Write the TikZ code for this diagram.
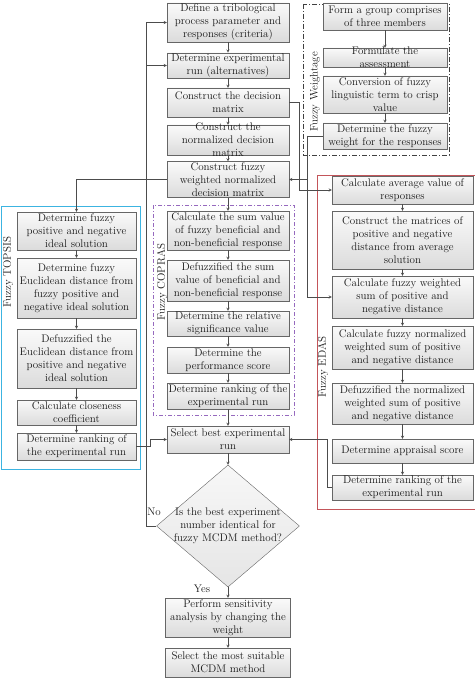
\documentclass[tikz,border=0pt]{standalone}
\usepackage{tikz}
\usetikzlibrary{shapes.geometric}
\definecolor{topsisblue}{RGB}{60,180,225}
\definecolor{coprasviolet}{RGB}{150,105,190}
\definecolor{edasred}{RGB}{195,85,90}
\tikzset{basic/.style={draw=black!60,top color=black!2,bottom color=black!14,
                       text=black!90,align=center,font=\fontsize{11}{13}\selectfont,
                       inner xsep=0.5pt,inner ysep=1pt}}
\tikzset{proc/.style={basic,rectangle}}
\tikzset{mainbox/.style={proc,minimum width=122pt}}
\tikzset{topsisbox/.style={proc,minimum width=119pt}}
\tikzset{edasbox/.style={proc,minimum width=141pt}}
\tikzset{weightbox/.style={proc,minimum width=124pt}}
\tikzset{tight/.style={inner ysep=-4pt}}
\tikzset{decision/.style={basic,diamond,inner sep=0pt,top color=black!3,bottom color=black!10}}
\tikzset{group/.style={line width=0.8pt}}
\tikzset{grouplabel/.style={rotate=90,text=black!90,font=\fontsize{11}{13}\selectfont}}
\tikzset{link/.style={draw=black!70,->}}

\begin{document}
\begin{tikzpicture}[x=1pt,y=-1pt,>=stealth]

    \useasboundingbox (0,0) rectangle (474,679);

    % method groups
    \draw[group,draw=black!75,dash pattern=on 5pt off 2pt on 1pt off 2pt] (303,4) rectangle (449,155);
    \node[grouplabel] (wlab) at (315,92) {Fuzzy Weightage};

    \draw[group,topsisblue] (1,206) rectangle (140,469);
    \node[grouplabel] (tlab) at (8,272) {Fuzzy TOPSIS};

    \draw[group,coprasviolet,dash pattern=on 4pt off 2pt on 1pt off 2pt] (153,205) rectangle (294,415);
    \node[grouplabel] (clab) at (162,282) {Fuzzy COPRAS};

    \draw[group,edasred] (317,175) rectangle (478,509);
    \node[grouplabel] (elab) at (323,367) {Fuzzy EDAS};

    % main column
    \node[mainbox,minimum height=39pt] (n1) at (228,22.5) {Define a tribological\\process parameter and\\responses (criteria)};
    \node[mainbox,minimum height=25pt] (n2) at (228,65.5) {Determine experimental\\run (alternatives)};
    \node[mainbox,minimum height=29pt] (n3) at (228,102.5) {Construct the decision\\matrix};
    \node[mainbox,tight,minimum height=30pt] (n4) at (228,140) {Construct the\\normalized decision\\matrix};
    \node[mainbox,minimum height=35pt] (n5) at (228,179.5) {Construct fuzzy\\weighted normalized\\decision matrix};

    % fuzzy weightage
    \node[weightbox,minimum height=27pt] (w1) at (385,16.5) {Form a group comprises\\of three members};
    \node[weightbox,tight,minimum height=19pt] (w2) at (385,57.5) {Formulate the\\assessment};
    \node[weightbox,minimum height=37pt] (w3) at (385,94.5) {Conversion of fuzzy\\linguistic term to crisp\\value};
    \node[weightbox,minimum height=26pt] (w4) at (385,136) {Determine the fuzzy\\weight for the responses};

    % fuzzy TOPSIS
    \node[topsisbox,minimum height=38pt] (t1) at (76.5,231) {Determine fuzzy\\positive and negative\\ideal solution};
    \node[topsisbox,minimum height=60pt] (t2) at (76.5,288) {Determine fuzzy\\Euclidean distance from\\fuzzy positive and\\negative ideal solution};
    \node[topsisbox,minimum height=59pt] (t3) at (76.5,358.5) {Defuzzified the\\Euclidean distance from\\positive and negative\\ideal solution};
    \node[topsisbox,minimum height=25pt] (t4) at (76.5,412.5) {Calculate closeness\\coefficient};
    \node[topsisbox,minimum height=27pt] (t5) at (76.5,446.5) {Determine ranking of\\the experimental run};

    % fuzzy COPRAS
    \node[mainbox,minimum height=39pt] (c1) at (228,230.5) {Calculate the sum value\\of fuzzy beneficial and\\non-beneficial response};
    \node[mainbox,minimum height=41pt] (c2) at (228,280.5) {Defuzzified the sum\\value of  beneficial and\\non-beneficial response};
    \node[mainbox,minimum height=25pt] (c3) at (228,323.5) {Determine the relative\\significance value};
    \node[mainbox,minimum height=26pt] (c4) at (228,360) {Determine the\\performance score};
    \node[mainbox,minimum height=26pt] (c5) at (228,396) {Determine ranking of the\\experimental run};

    % fuzzy EDAS
    \node[edasbox,minimum height=28pt] (e1) at (402.5,190) {Calculate average value of\\responses};
    \node[edasbox,minimum height=58pt] (e2) at (402.5,240) {Construct the matrices of\\positive and negative\\distance from average\\solution};
    \node[edasbox,minimum height=42pt] (e3) at (402.5,297) {Calculate fuzzy weighted\\sum of positive and\\negative distance};
    \node[edasbox,minimum height=43pt] (e4) at (402.5,347.5) {Calculate fuzzy normalized\\weighted sum of positive\\and negative distance};
    \node[edasbox,minimum height=41pt] (e5) at (402.5,403.5) {Defuzzified the normalized\\weighted sum of positive\\and negative distance};
    \node[edasbox,minimum height=24pt] (e6) at (402.5,451) {Determine appraisal score};
    \node[edasbox,minimum height=25pt] (e7) at (402.5,487.5) {Determine ranking of the\\experimental run};

    % selection
    \node[mainbox,minimum height=27pt] (sel) at (228,439.5) {Select best experimental\\run};
    \node[decision,minimum width=143pt,minimum height=122pt,
          label={[align=center,text=black!90,font=\fontsize{11}{13}\selectfont]center:{Is the best experiment\\number identical for\\fuzzy MCDM method?}}] (dec) at (228,526) {};
    \node[mainbox,minimum width=125pt,minimum height=39pt] (perf) at (228,617.5) {Perform sensitivity\\analysis by changing the\\weight};
    \node[mainbox,minimum width=125pt,minimum height=29pt] (best) at (228,662.5) {Select the most suitable\\MCDM method};

    \node[text=black!90,font=\fontsize{11}{13}\selectfont] (no) at (154,512) {No};
    \node[text=black!90,font=\fontsize{11}{13}\selectfont] (yes) at (202,589) {Yes};

    % connectors
    \draw[link] (n1) -- (n2);
    \draw[link] (n2) -- (n3);
    \draw[link] (n3) -- (n4);
    \draw[link] (n4) -- (n5);
    \draw[link] (n5) -- (c1);

    \draw[link] (w1) -- (w2);
    \draw[link] (w2) -- (w3);
    \draw[link] (w3) -- (w4);

    \draw[link] (t1) -- (t2);
    \draw[link] (t2) -- (t3);
    \draw[link] (t3) -- (t4);
    \draw[link] (t4) -- (t5);

    \draw[link] (c1) -- (c2);
    \draw[link] (c2) -- (c3);
    \draw[link] (c3) -- (c4);
    \draw[link] (c4) -- (c5);
    \draw[link] (c5) -- (sel);

    \draw[link] (e1) -- (e2);
    \draw[link] (e2) -- (e3);
    \draw[link] (e3) -- (e4);
    \draw[link] (e4) -- (e5);
    \draw[link] (e5) -- (e6);
    \draw[link] (e6) -- (e7);

    \draw[link] (sel) -- (dec);
    \draw[link] (dec) -- (perf);
    \draw[link] (perf) -- (best);

    \draw[link] (n5.west) -| (t1.north);
    \draw[link] (n3.east) -- ++(10,0) |- (e1.west);
    \draw[draw=black!70] (w4.west) -- ++(-16,0) coordinate (wt);
    \draw[link] (wt) |- (n5.east);
    \draw[link] (wt) |- (e3.west);

    \draw[link] (t5.east) -- ++(14,0) |- (sel.west);
    \draw[link] (e7.west) -- ++(-5,0) |- (sel.east);

    \coordinate (back) at (146,526);
    \draw[link] (dec.west) -- (back) |- (n1.west);
    \draw[link] (back |- n2.west) -- (n2.west);

\end{tikzpicture}
\end{document}
